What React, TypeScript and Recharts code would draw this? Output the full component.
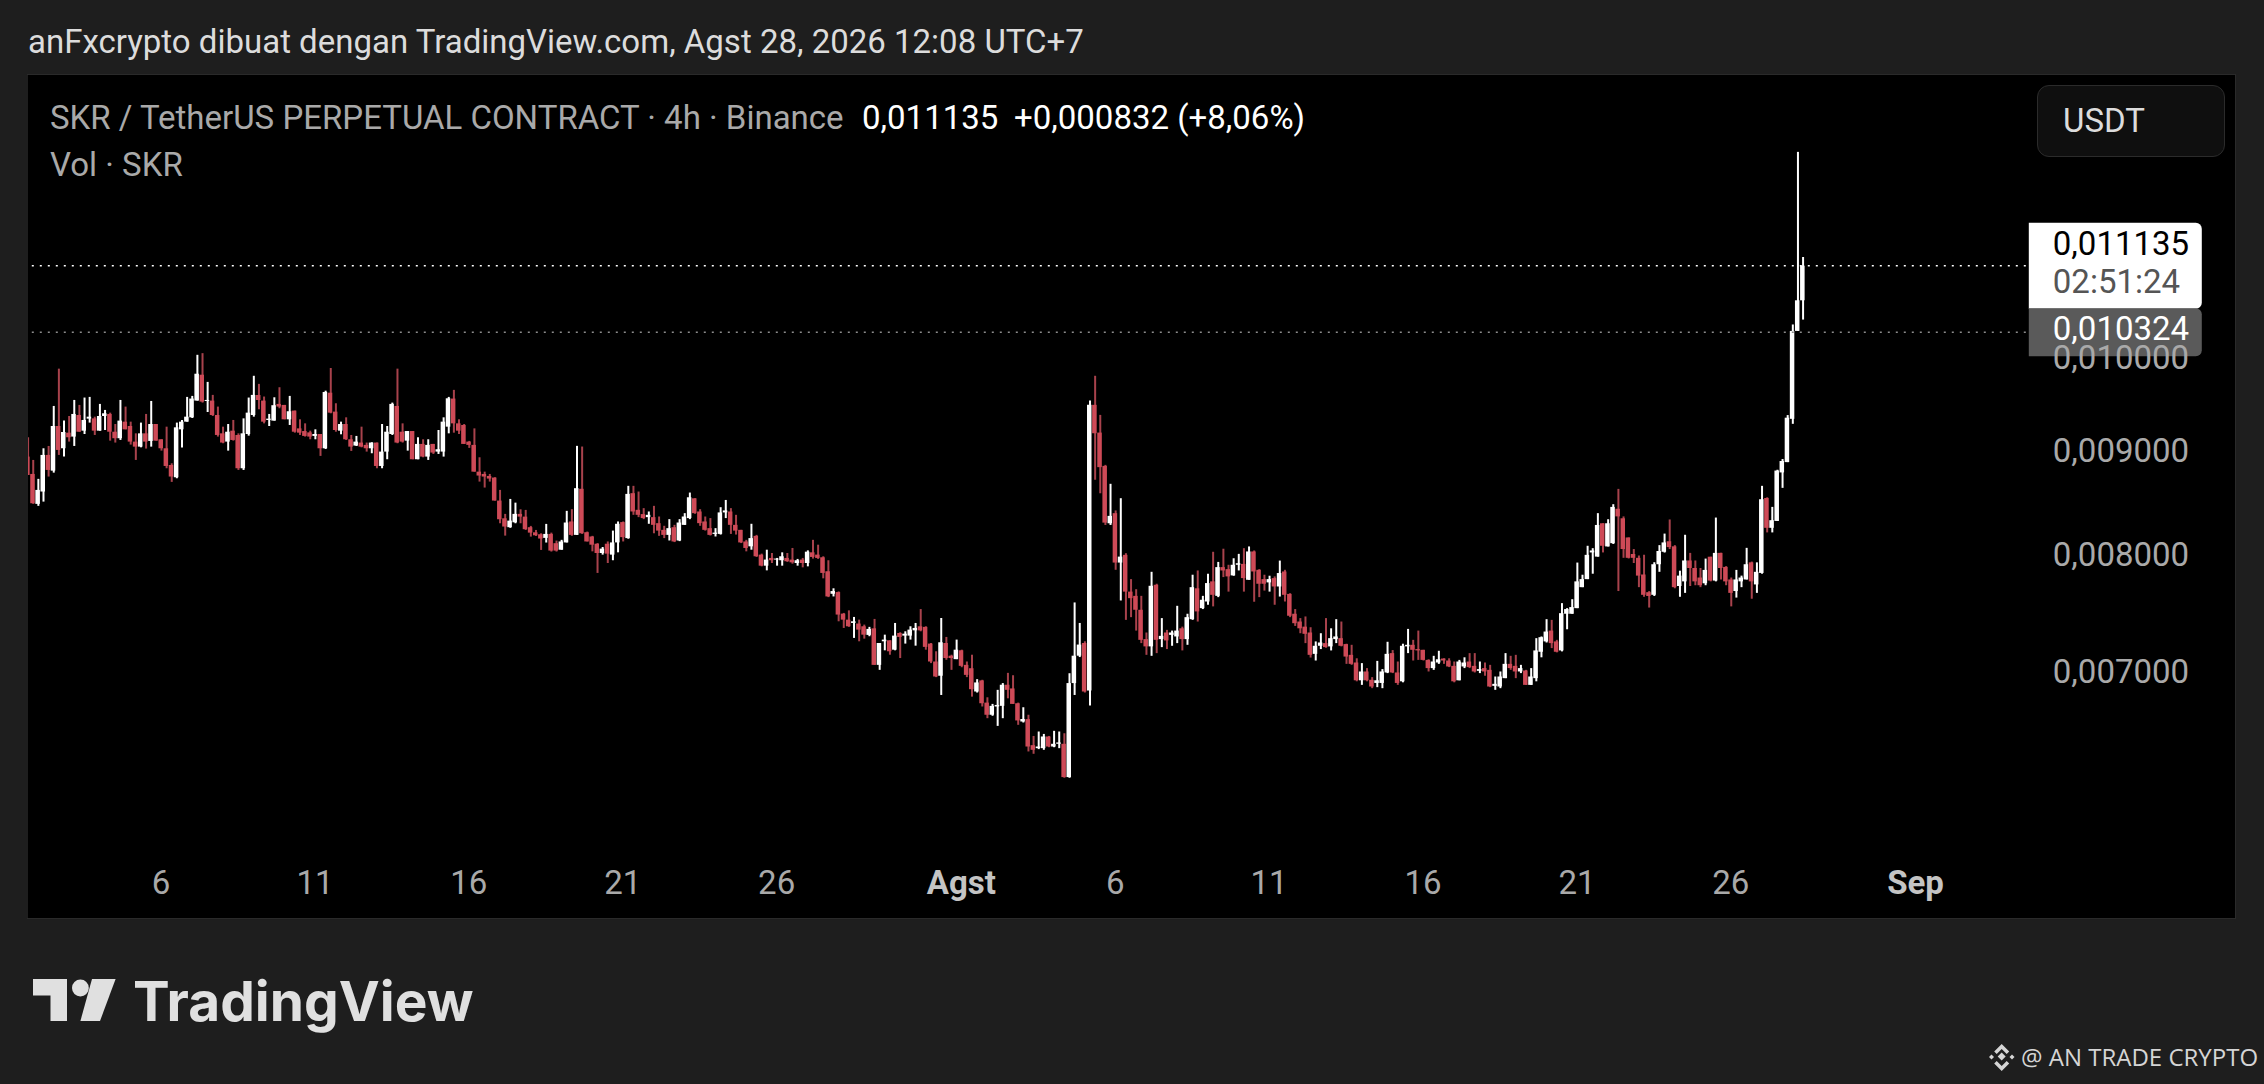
import { Bar, Cell, ComposedChart, ReferenceLine, XAxis, YAxis } from 'recharts'

// 4h candles, in millionths of USDT from left to right
const HIGHS = [
  9162, 8929, 8739, 9048, 9072, 9494, 9905, 9337, 9386, 9559,
  9505, 9585, 9592, 9379, 9516, 9451, 9422, 9301, 9559, 9487,
  9326, 9203, 9316, 9408, 9548, 9301, 9141, 9273, 8895, 9316,
  9344, 9592, 9603, 10062, 10081, 9757, 9614, 9487, 9273, 9301,
  9344, 9203, 9361, 9585, 9825, 9735, 9596, 9408, 9588, 9698,
  9505, 9603, 9444, 9351, 9308, 9231, 9245, 9196, 9660, 9912,
  9523, 9326, 9372, 9186, 9176, 9273, 9107, 9110, 9107, 9301,
  9280, 9530, 9905, 9308, 9227, 9227, 9162, 9141, 9141, 9093,
  9238, 9372, 9592, 9669, 9351, 9301, 9124, 9255, 8956, 8811,
  8788, 8755, 8630, 8398, 8542, 8506, 8442, 8436, 8284, 8246,
  8215, 8303, 8221, 8147, 8154, 8427, 8443, 9073, 9066, 8231,
  8191, 8124, 8088, 8139, 8240, 8326, 8326, 8670, 8670, 8614,
  8453, 8421, 8475, 8373, 8285, 8348, 8294, 8348, 8405, 8604,
  8548, 8443, 8373, 8358, 8263, 8462, 8532, 8453, 8389, 8247,
  8154, 8304, 8200, 8027, 8063, 8033, 7988, 8039, 8033, 8079,
  7979, 7988, 8057, 8154, 8109, 8003, 7967, 7717, 7690, 7504,
  7526, 7470, 7447, 7405, 7386, 7453, 7252, 7321, 7274, 7419,
  7341, 7349, 7391, 7419, 7537, 7391, 7252, 7184, 7461, 7302,
  7156, 7280, 7197, 7101, 7156, 6960, 6955, 6818, 6767, 6876,
  6929, 7010, 6991, 6777, 6742, 6684, 6525, 6558, 6540, 6525,
  6563, 6558, 6545, 7007, 7594, 7419, 7266, 9552, 9825, 9398,
  8879, 8690, 8431, 8549, 8031, 7798, 7709, 7651, 7339, 7863,
  7757, 7460, 7361, 7355, 7565, 7388, 7497, 7837, 7875, 7651,
  7846, 8044, 7952, 8072, 7926, 7985, 8025, 8077, 8093, 8056,
  7887, 7837, 7828, 7822, 7964, 7881, 7674, 7537, 7460, 7474,
  7383, 7265, 7333, 7460, 7374, 7451, 7431, 7246, 7237, 7127,
  7088, 7048, 6976, 7106, 7040, 7262, 7194, 7101, 7246, 7369,
  7278, 7355, 7196, 7119, 7147, 7188, 7127, 7127, 7101, 7114,
  7135, 7169, 7169, 7101, 7093, 7074, 6981, 7021, 7169, 7147,
  7155, 7074, 7034, 7048, 7292, 7306, 7451, 7445, 7278, 7588,
  7545, 7622, 7946, 7837, 8099, 8077, 8405, 8309, 8347, 8491,
  8640, 8374, 8176, 8069, 8010, 8017, 7693, 7949, 8105, 8212,
  8345, 8105, 7873, 8201, 8034, 7965, 7897, 7982, 7999, 8363,
  8034, 7914, 7812, 7880, 7829, 8080, 7955, 7948, 8670, 8558,
  8465, 8830, 8938, 9396, 10415, 12672, 11245,
]

const LOWS = [
  8778, 8494, 8475, 8516, 8762, 8801, 8980, 8963, 9117, 9072,
  9220, 9196, 9316, 9186, 9231, 9238, 9127, 9107, 9134, 9245,
  9086, 8929, 9058, 9045, 9065, 9127, 9024, 8845, 8709, 8745,
  9055, 9326, 9365, 9552, 9530, 9429, 9386, 9169, 9100, 9024,
  9127, 8828, 8828, 9179, 9379, 9458, 9308, 9280, 9337, 9469,
  9351, 9291, 9210, 9186, 9169, 9141, 9141, 8970, 9041, 9415,
  9220, 9193, 9134, 9021, 9072, 9058, 9014, 8997, 8845, 8845,
  8936, 9186, 9100, 9107, 9024, 8936, 8936, 8956, 8929, 8990,
  8990, 8963, 9203, 9210, 9196, 9093, 9052, 8811, 8712, 8653,
  8712, 8526, 8309, 8193, 8266, 8309, 8309, 8246, 8184, 8190,
  8061, 8129, 8046, 8046, 8063, 8130, 8191, 8200, 8209, 8139,
  8048, 7853, 8018, 7942, 7967, 8039, 8139, 8164, 8389, 8367,
  8348, 8304, 8215, 8191, 8170, 8148, 8133, 8142, 8294, 8348,
  8399, 8285, 8240, 8194, 8185, 8203, 8358, 8209, 8203, 8124,
  8048, 8063, 7997, 7912, 7876, 7942, 7918, 7918, 7952, 7936,
  7918, 7903, 7912, 7982, 7979, 7805, 7640, 7646, 7433, 7377,
  7386, 7294, 7266, 7288, 7308, 7074, 7034, 7192, 7156, 7192,
  7129, 7247, 7280, 7230, 7349, 7197, 7088, 6976, 6836, 7115,
  7034, 7120, 7055, 6976, 6823, 6855, 6747, 6658, 6676, 6600,
  6658, 6810, 6767, 6608, 6626, 6411, 6394, 6428, 6423, 6442,
  6442, 6435, 6222, 6222, 6836, 7137, 6855, 6755, 8730, 8597,
  8293, 8293, 7881, 7611, 7445, 7468, 7355, 7251, 7155, 7147,
  7169, 7218, 7202, 7229, 7251, 7191, 7237, 7445, 7431, 7537,
  7574, 7560, 7640, 7816, 7688, 7828, 7875, 7688, 7792, 7600,
  7640, 7697, 7688, 7574, 7645, 7602, 7468, 7394, 7333, 7251,
  7133, 7109, 7202, 7213, 7191, 7251, 7224, 7082, 7074, 6943,
  6915, 6943, 6889, 6897, 6889, 7008, 7008, 6915, 6935, 7169,
  7109, 7114, 7109, 7021, 7034, 7082, 7082, 7056, 6935, 6951,
  7048, 7048, 7013, 7008, 6987, 6897, 6876, 6889, 6968, 7034,
  6968, 7008, 6915, 6915, 6943, 7135, 7256, 7210, 7175, 7183,
  7366, 7497, 7545, 7727, 7798, 7846, 8000, 8038, 8093, 8116,
  7693, 7989, 7983, 7942, 7727, 7643, 7550, 7650, 7863, 8037,
  8069, 7717, 7643, 7677, 7737, 7744, 7727, 7744, 7778, 7778,
  7795, 7744, 7560, 7636, 7727, 7795, 7626, 7677, 7846, 8223,
  8223, 8331, 8650, 8907, 9303, 10339, 10473,
]

const OPENS = [
  8963, 8788, 8494, 8614, 8980, 8821, 9280, 9048, 9210, 9169,
  9397, 9231, 9358, 9361, 9231, 9386, 9408, 9220, 9152, 9326,
  9280, 9117, 9065, 9203, 9124, 9301, 9141, 9048, 8878, 8755,
  9245, 9326, 9372, 9552, 9837, 9548, 9552, 9397, 9203, 9117,
  9231, 9186, 8845, 9196, 9397, 9614, 9552, 9344, 9337, 9516,
  9505, 9351, 9444, 9255, 9227, 9213, 9176, 9196, 9048, 9638,
  9433, 9231, 9301, 9141, 9076, 9107, 9083, 9048, 9107, 8868,
  9014, 9196, 9494, 9220, 9127, 9227, 8936, 9093, 8963, 9093,
  9014, 9014, 9273, 9574, 9308, 9291, 9117, 9083, 8811, 8788,
  8768, 8752, 8526, 8356, 8272, 8318, 8398, 8372, 8272, 8224,
  8206, 8172, 8209, 8123, 8063, 8130, 8326, 8200, 8641, 8225,
  8185, 8118, 8033, 8118, 8018, 8130, 8320, 8170, 8598, 8437,
  8396, 8367, 8367, 8310, 8247, 8200, 8272, 8148, 8294, 8358,
  8548, 8421, 8326, 8263, 8209, 8209, 8412, 8421, 8294, 8247,
  8139, 8094, 8191, 8018, 7918, 7988, 7973, 7967, 7988, 7973,
  7942, 7973, 7942, 8039, 8018, 7994, 7868, 7669, 7684, 7498,
  7447, 7419, 7414, 7391, 7319, 7374, 7074, 7266, 7274, 7197,
  7335, 7313, 7313, 7357, 7391, 7386, 7247, 7101, 6987, 7252,
  7148, 7120, 7192, 7074, 7047, 6863, 6950, 6777, 6684, 6747,
  6752, 6916, 6887, 6772, 6633, 6651, 6457, 6435, 6435, 6521,
  6447, 6467, 6467, 6227, 6929, 7148, 7252, 6870, 9506, 9211,
  8869, 8309, 8405, 7946, 8016, 7688, 7651, 7531, 7284, 7224,
  7748, 7284, 7339, 7319, 7306, 7374, 7284, 7451, 7717, 7545,
  7602, 7778, 7651, 7905, 7887, 7831, 7926, 7934, 7792, 8047,
  7881, 7798, 7769, 7807, 7733, 7866, 7668, 7497, 7431, 7388,
  7339, 7163, 7229, 7251, 7224, 7284, 7292, 7243, 7155, 7093,
  6951, 7021, 6955, 6930, 6930, 7013, 7169, 7013, 6943, 7224,
  7237, 7202, 7196, 7114, 7048, 7093, 7125, 7109, 7066, 6951,
  7061, 7101, 7066, 7026, 7048, 7034, 6907, 6902, 6968, 7082,
  7066, 7021, 7029, 6915, 6968, 7180, 7265, 7355, 7265, 7191,
  7497, 7497, 7545, 7727, 7798, 8038, 8000, 8309, 8093, 8123,
  8447, 8356, 8176, 8024, 7989, 7839, 7683, 7660, 7931, 8044,
  8141, 8094, 7737, 7778, 7965, 7897, 7812, 7761, 7999, 7785,
  8034, 7907, 7795, 7693, 7778, 7795, 7948, 7751, 7853, 8551,
  8266, 8331, 8803, 8907, 9356, 10339, 10705,
]

const CLOSES = [
  8778, 8500, 8630, 8980, 8828, 9280, 9031, 9217, 9162, 9408,
  9220, 9344, 9379, 9231, 9386, 9415, 9220, 9152, 9337, 9245,
  9117, 9065, 9203, 9117, 9301, 9127, 9048, 8868, 8762, 9266,
  9326, 9379, 9574, 9848, 9541, 9559, 9397, 9186, 9107, 9220,
  9134, 8845, 9203, 9422, 9614, 9559, 9326, 9358, 9502, 9487,
  9351, 9437, 9220, 9210, 9176, 9169, 9196, 9048, 9646, 9422,
  9238, 9301, 9141, 9065, 9117, 9065, 9048, 9107, 8868, 9014,
  9220, 9516, 9107, 9117, 9227, 8936, 9093, 8963, 9083, 9004,
  9038, 9326, 9577, 9308, 9231, 9093, 9083, 8811, 8772, 8762,
  8742, 8526, 8347, 8278, 8334, 8398, 8372, 8253, 8221, 8196,
  8166, 8209, 8055, 8055, 8139, 8316, 8200, 8647, 8215, 8139,
  8109, 8033, 8073, 8027, 8130, 8304, 8179, 8591, 8421, 8389,
  8358, 8389, 8294, 8240, 8200, 8263, 8139, 8316, 8373, 8558,
  8405, 8310, 8247, 8200, 8221, 8412, 8431, 8294, 8240, 8130,
  8079, 8170, 8003, 7918, 7973, 7967, 7982, 8003, 7958, 7948,
  7967, 7942, 8045, 7997, 7988, 7853, 7646, 7693, 7490, 7447,
  7391, 7433, 7363, 7321, 7369, 7074, 7252, 7280, 7184, 7313,
  7302, 7329, 7363, 7377, 7357, 7220, 7101, 6981, 7258, 7129,
  7129, 7197, 7066, 6994, 6881, 6934, 6772, 6684, 6752, 6759,
  6916, 6876, 6767, 6641, 6651, 6447, 6423, 6447, 6521, 6447,
  6467, 6477, 6227, 6929, 7148, 7239, 6863, 9506, 9204, 8856,
  8315, 8379, 7946, 8000, 7688, 7631, 7531, 7278, 7224, 7739,
  7278, 7311, 7273, 7339, 7355, 7284, 7468, 7727, 7517, 7617,
  7763, 7660, 7905, 7875, 7822, 7926, 7940, 7807, 8047, 7866,
  7757, 7757, 7798, 7733, 7852, 7660, 7480, 7417, 7374, 7328,
  7155, 7229, 7256, 7218, 7292, 7306, 7229, 7141, 7082, 6951,
  7021, 6951, 6902, 6951, 7021, 7163, 7013, 6930, 7229, 7237,
  7196, 7191, 7114, 7048, 7101, 7119, 7109, 7061, 6943, 7101,
  7093, 7056, 7021, 7040, 7021, 6902, 6923, 6981, 7082, 7048,
  7021, 7048, 6915, 6981, 7191, 7300, 7347, 7251, 7180, 7502,
  7537, 7554, 7778, 7798, 8016, 8056, 8293, 8099, 8309, 8465,
  8374, 8069, 7989, 7989, 7829, 7660, 7650, 7931, 8051, 8130,
  8087, 7727, 7829, 7965, 7897, 7778, 7744, 7880, 7785, 8034,
  7897, 7778, 7677, 7795, 7812, 7931, 7778, 7863, 8539, 8266,
  8338, 8822, 8918, 9368, 10339, 10705, 11135,
]

const SLOT_COUNT = 390 // candles plus the empty space on the right
const TICK_SLOTS = [26, 56, 86, 116, 146, 182, 212, 242, 272, 302, 332, 368]
const TICK_LABELS = ['6', '11', '16', '21', '26', 'Agst', '6', '11', '16', '21', '26', 'Sep']
const BOLD_LABELS = ['Agst', 'Sep']
const PRICE_TICKS = [0.007, 0.008, 0.009, 0.01]
const LAST_PRICE = 0.011135
const BID_PRICE = 0.010324

const RED_BODY = '#CE4A57'
const RED_WICK = '#A8424C'
const FONT = 'Roboto, sans-serif'

const rows = Array.from({ length: SLOT_COUNT }, (_, i) =>
  i < HIGHS.length
    ? {
        slot: i,
        wick: [LOWS[i] / 1e6, HIGHS[i] / 1e6],
        body: [Math.min(OPENS[i], CLOSES[i]) / 1e6, Math.max(OPENS[i], CLOSES[i]) / 1e6],
        up: CLOSES[i] >= OPENS[i],
      }
    : { slot: i },
)

const formatPrice = (v: number) => v.toFixed(6).replace('.', ',')

function TimeTick({ x, y, payload }: any) {
  const label = TICK_LABELS[TICK_SLOTS.indexOf(payload.value)]
  const bold = BOLD_LABELS.includes(label)
  return (
    <text x={x} y={y + 31.5} textAnchor="middle" fontFamily={FONT} fontSize={33} fontWeight={bold ? 700 : 400} fill={bold ? '#c4c4c4' : '#a9a9a9'}>
      {label}
    </text>
  )
}

function PriceTick({ x, y, payload }: any) {
  return (
    <text x={x} y={y + 9} fontFamily={FONT} fontSize={33} fill="#a9a9a9">
      {formatPrice(payload.value)}
    </text>
  )
}

function LastTag({ viewBox }: any) {
  const x = viewBox.x + viewBox.width + 3
  const y = viewBox.y
  return (
    <g fontFamily={FONT} fontSize={33}>
      <path d={`M${x} ${y - 43}h167a6 6 0 0 1 6 6v74a6 6 0 0 1 -6 6h-167z`} fill="#ffffff" />
      <text x={x + 24} y={y - 11} fill="#000000">{formatPrice(LAST_PRICE)}</text>
      <text x={x + 24} y={y + 27} fill="#555555">02:51:24</text>
    </g>
  )
}

function BidTag({ viewBox }: any) {
  const x = viewBox.x + viewBox.width + 3
  const y = viewBox.y
  return (
    <g fontFamily={FONT} fontSize={33}>
      <path d={`M${x} ${y - 24}h167a6 6 0 0 1 6 6v36a6 6 0 0 1 -6 6h-167z`} fill="#5a5a5a" />
      <text x={x + 24} y={y + 8} fill="#ffffff">{formatPrice(BID_PRICE)}</text>
    </g>
  )
}

function label(text: string, left: number, top: number, size: number, color: string) {
  return (
    <div style={{ position: 'absolute', left, top, fontFamily: FONT, fontSize: size, lineHeight: `${size + 6}px`, color, whiteSpace: 'pre' }}>
      {text}
    </div>
  )
}

export default function App() {
  return (
    <div style={{ position: 'absolute', left: 0, top: 0, width: 2264, height: 1084, background: '#1e1e1e', overflow: 'hidden' }}>
      {label('anFxcrypto dibuat dengan TradingView.com, Agst 28, 2026 12:08 UTC+7', 28, 22, 33, '#dcdcdc')}
      <div style={{ position: 'absolute', left: 28, top: 75, width: 2207, height: 843, background: '#000', boxShadow: '0 0 0 1px #2a2a2a' }} />
      <div style={{ position: 'absolute', left: 0, top: 0 }}>
        <ComposedChart width={2264} height={1084} data={rows} margin={{ top: 76, right: 0, bottom: 166, left: 25.1 }} barCategoryGap={0}>
          <XAxis
            xAxisId="time"
            dataKey="slot"
            ticks={TICK_SLOTS}
            interval={0}
            height={58}
            axisLine={false}
            tickLine={false}
            tickSize={0}
            tick={TimeTick}
          />
          <XAxis xAxisId="wicks" dataKey="slot" hide />
          <YAxis
            orientation="right"
            scale="log"
            domain={[0.005667, 0.013813]}
            ticks={PRICE_TICKS}
            width={238.2}
            axisLine={false}
            tickLine={false}
            tickSize={0}
            tickMargin={27}
            tick={PriceTick}
          />
          <Bar xAxisId="wicks" dataKey="wick" barSize={2} isAnimationActive={false}>
            {rows.map(r => <Cell key={r.slot} fill={r.up ? '#ffffff' : RED_WICK} />)}
          </Bar>
          <Bar xAxisId="time" dataKey="body" barSize={4.5} isAnimationActive={false}>
            {rows.map(r => <Cell key={r.slot} fill={r.up ? '#ffffff' : RED_BODY} />)}
          </Bar>
          <ReferenceLine xAxisId="time" y={LAST_PRICE} stroke="#ffffff" strokeWidth={1.5} strokeDasharray="2 6" label={LastTag} />
          <ReferenceLine xAxisId="time" y={BID_PRICE} stroke="#8c8c8c" strokeWidth={1.5} strokeDasharray="2 6" label={BidTag} />
        </ComposedChart>
      </div>
      <div style={{ position: 'absolute', left: 0, top: 75, width: 28, height: 843, background: '#1e1e1e' }} />

      {label('SKR / TetherUS PERPETUAL CONTRACT · 4h · Binance', 50, 98, 33, '#a9a9a9')}
      {label('0,011135', 862, 98, 33, '#ffffff')}
      {label('+0,000832 (+8,06%)', 1014, 98, 33, '#ffffff')}
      {label('Vol · SKR', 50, 145, 33, '#a9a9a9')}

      <div style={{ position: 'absolute', left: 2037, top: 85, width: 186, height: 70, background: '#0f0f0f', border: '1px solid #2b2b2b', borderRadius: 12 }} />
      {label('USDT', 2063, 101, 33, '#dcdcdc')}

      <svg style={{ position: 'absolute', left: 0, top: 960 }} width={600} height={124}>
        <g fill="#e0e0e0">
          <path d="M33 19H67V61H50.5V35.5H33Z" />
          <circle cx="80.4" cy="28" r="8.4" />
          <path d="M92 19H115.6L100 61H80.4Z" />
        </g>
        <text x={133} y={61} fontFamily="Inter, sans-serif" fontSize={55} fontWeight={700} fill="#e0e0e0">TradingView</text>
      </svg>

      <svg style={{ position: 'absolute', left: 1980, top: 1035 }} width={284} height={49}>
        <g fill="#d5d5d5">
          <path d="M21.7 17.5l4 4 -4 4 -4 -4z" />
          <path d="M11.5 19.5l2.5 2.5 -2.5 2.5 -2.5 -2.5z" />
          <path d="M32 19.5l2.5 2.5 -2.5 2.5 -2.5 -2.5z" />
          <path d="M21.7 9l7.5 7.5 -2.5 2.5 -5 -5 -5 5 -2.5 -2.5z" />
          <path d="M21.7 36l7.5 -7.5 -2.5 -2.5 -5 5 -5 -5 -2.5 2.5z" />
        </g>
        <text x={41} y={31} fontFamily="'Open Sans', sans-serif" fontSize={24} fill="#d5d5d5">@ AN TRADE CRYPTO</text>
      </svg>
    </div>
  )
}
